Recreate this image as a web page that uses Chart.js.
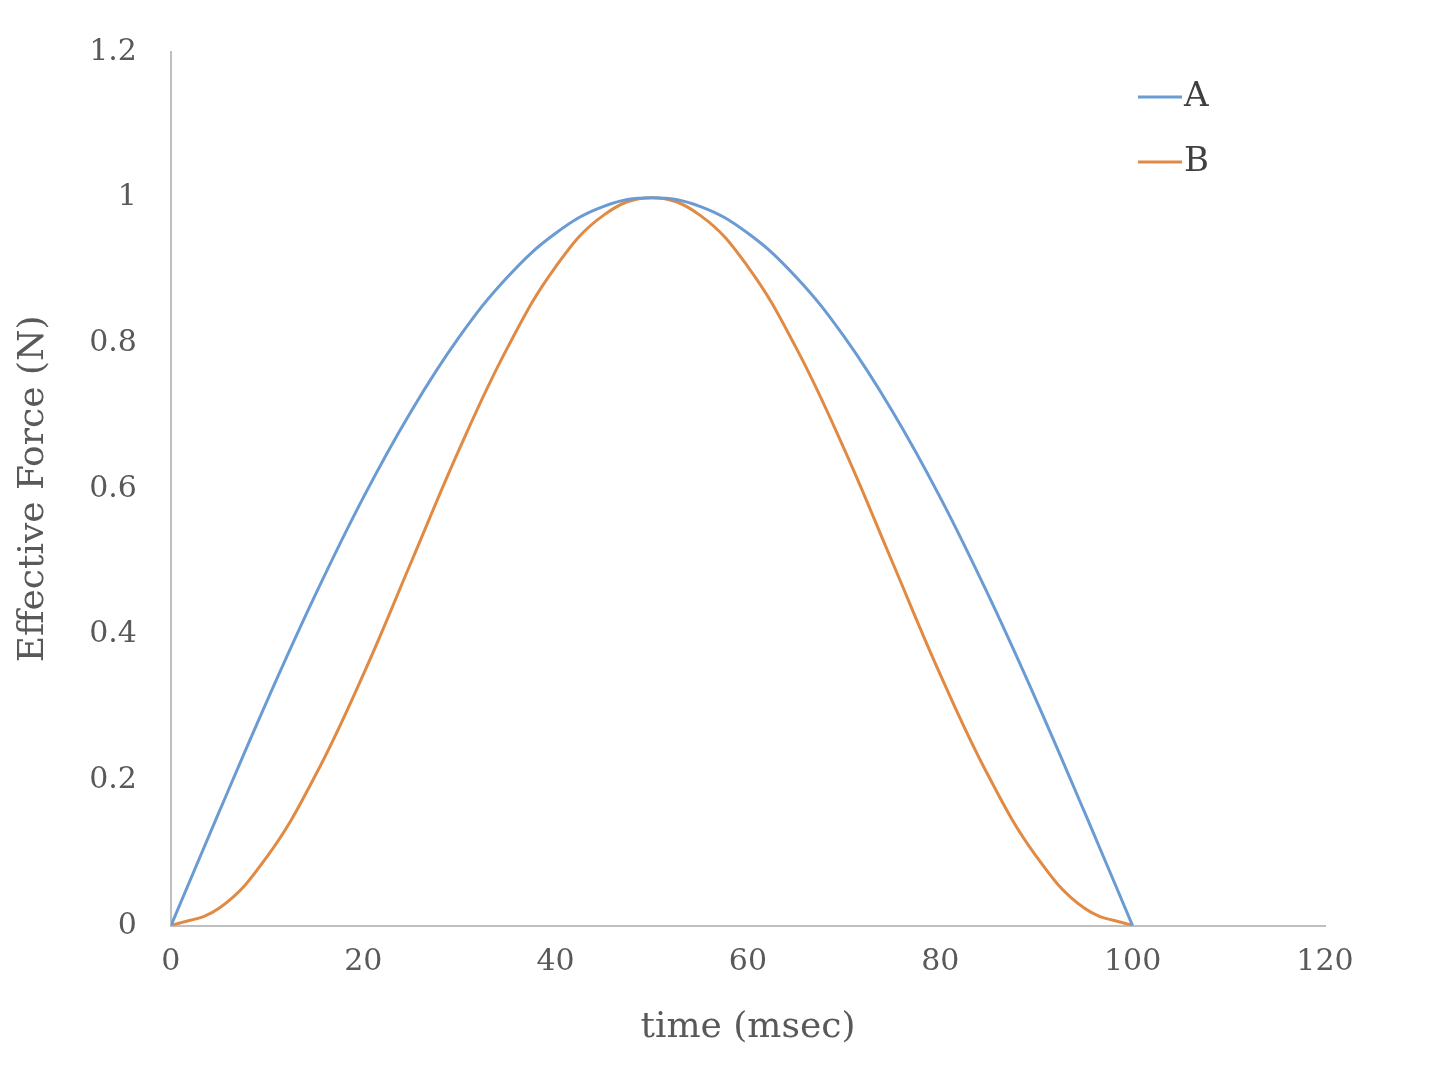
<!DOCTYPE html>
<html><head><meta charset="utf-8">
<script src="https://cdn.jsdelivr.net/npm/chart.js@4/dist/chart.umd.min.js"></script>
<style>html,body{margin:0;background:#fff}#w{width:1448px;height:1084px}</style>
</head><body><div id="w"><canvas id="c"></canvas></div>
<script>
const times=[0,5,10,15,20,25,30,35,40,45,50,55,60,65,70,75,80,85,90,95,100];
const seriesA=[0,0.156,0.309,0.454,0.588,0.707,0.809,0.891,0.951,0.988,1,0.988,0.951,0.891,0.809,0.707,0.588,0.454,0.309,0.156,0];
const seriesB=[0,0.024,0.095,0.206,0.345,0.5,0.655,0.794,0.905,0.976,1,0.976,0.905,0.794,0.655,0.5,0.345,0.206,0.095,0.024,0];
const xTicks=[0,20,40,60,80,100,120];
const yTicks=[0,0.2,0.4,0.6,0.8,1,1.2];
const font='"DejaVu Serif", "Liberation Serif", serif';
const legendPlugin={id:'lg',afterDraw(ch){const c=ch.ctx;c.save();c.font='34px '+font;c.fillStyle='#404040';c.textBaseline='middle';
ch.data.datasets.forEach((d,i)=>{const y=97+i*65;c.strokeStyle=d.borderColor;c.lineWidth=3;c.beginPath();c.moveTo(1138,y);c.lineTo(1182,y);c.stroke();c.fillText(d.label,1184,y);});c.restore();}};
new Chart(document.getElementById('c'),{type:'line',
data:{datasets:[
{label:'A',data:times.map((t,i)=>({x:t,y:seriesA[i]})),borderColor:'#6a9bd3',borderWidth:3,pointRadius:0,tension:0.4},
{label:'B',data:times.map((t,i)=>({x:t,y:seriesB[i]})),borderColor:'#e08a44',borderWidth:3,pointRadius:0,tension:0.4}]},
options:{responsive:true,maintainAspectRatio:false,animation:false,
layout:{padding:{left:8,top:21,right:123,bottom:31}},
plugins:{legend:{display:false},tooltip:{enabled:false}},
scales:{
x:{type:'linear',min:0,max:120,afterBuildTicks:a=>{a.ticks=xTicks.map(v=>({value:v}))},
grid:{display:false,drawTicks:false},border:{color:'#bfbfbf',width:2},
ticks:{color:'#595959',font:{family:font,size:30},padding:18,callback:v=>String(v)},
title:{display:true,text:'time (msec)',color:'#595959',font:{family:font,size:36},padding:{top:8}}},
y:{min:0,max:1.2,afterBuildTicks:a=>{a.ticks=yTicks.map(v=>({value:v}))},
grid:{display:false,drawTicks:false},border:{color:'#bfbfbf',width:2},
ticks:{color:'#595959',font:{family:font,size:30},padding:34,callback:v=>String(v)},
title:{display:true,text:'Effective Force (N)',color:'#595959',font:{family:font,size:36},padding:{bottom:0}}}}},
plugins:[legendPlugin]});
</script></body></html>
